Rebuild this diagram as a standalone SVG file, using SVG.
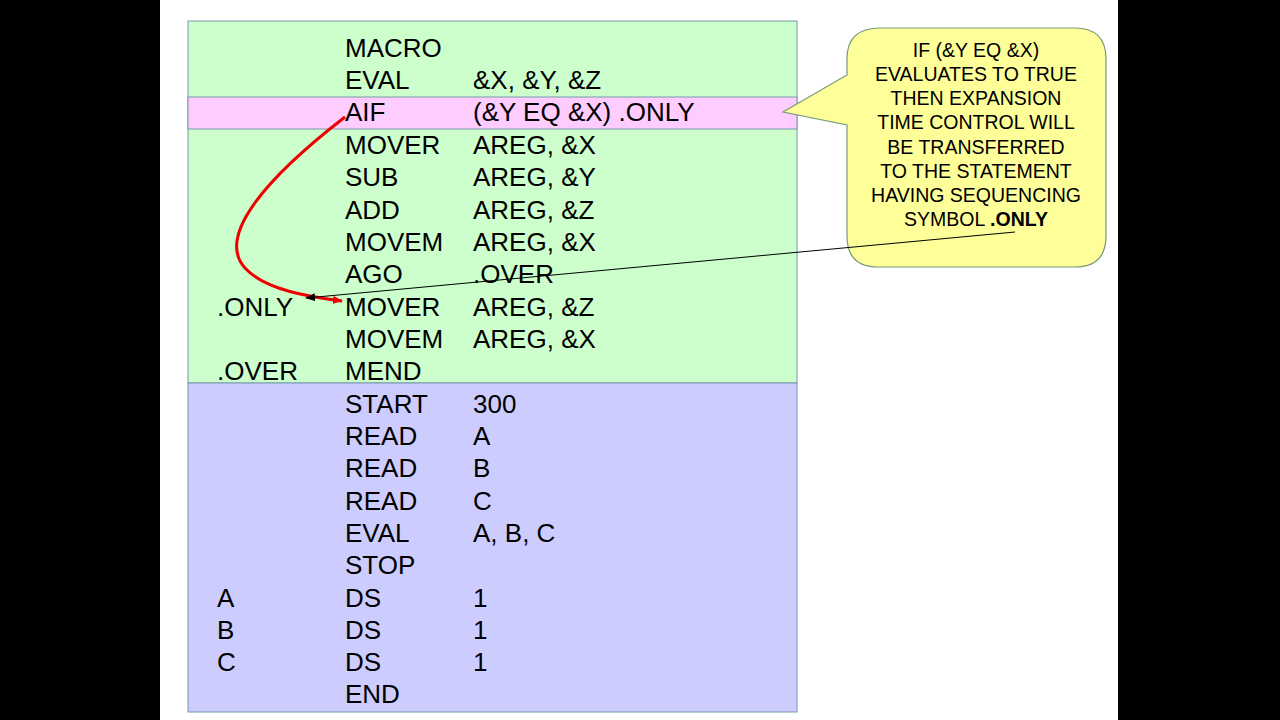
<svg xmlns="http://www.w3.org/2000/svg" width="1280" height="720" viewBox="0 0 1280 720">
<style>
.t{font-family:"Liberation Sans",Arial,sans-serif;font-size:26px;fill:#000}
.c{font-family:"Liberation Sans",Arial,sans-serif;font-size:19.5px;fill:#000;text-anchor:middle}
</style>
<defs>
<marker id="rh" markerWidth="10" markerHeight="8" refX="9" refY="4" orient="auto" markerUnits="userSpaceOnUse"><path d="M0,0L10,4L0,8z" fill="#e00"/></marker>
<marker id="bh" markerWidth="10" markerHeight="8" refX="9" refY="4" orient="auto" markerUnits="userSpaceOnUse"><path d="M0,0L10,4L0,8z" fill="#000"/></marker>
</defs>
<rect width="1280" height="720" fill="#000"/>
<rect x="160" y="0" width="958" height="720" fill="#fff"/>
<g id="macro">
<rect x="188" y="21" width="609" height="362" fill="#ccffcc" stroke="#7799aa"/>
<rect x="188" y="97" width="609" height="32" fill="#ffccff" stroke="#7799aa"/>
</g>
<g id="program">
<rect x="188" y="383" width="609" height="329" fill="#ccccff" stroke="#7799aa"/>
</g>
<g id="code">
<text class="t" x="345" y="57">MACRO</text>
<text class="t" x="345" y="89">EVAL</text><text class="t" x="473" y="89">&amp;X, &amp;Y, &amp;Z</text>
<text class="t" x="345" y="121">AIF</text><text class="t" x="473" y="121">(&amp;Y EQ &amp;X) .ONLY</text>
<text class="t" x="345" y="154">MOVER</text><text class="t" x="473" y="154">AREG, &amp;X</text>
<text class="t" x="345" y="186">SUB</text><text class="t" x="473" y="186">AREG, &amp;Y</text>
<text class="t" x="345" y="219">ADD</text><text class="t" x="473" y="219">AREG, &amp;Z</text>
<text class="t" x="345" y="251">MOVEM</text><text class="t" x="473" y="251">AREG, &amp;X</text>
<text class="t" x="345" y="283">AGO</text><text class="t" x="473" y="283">.OVER</text>
<text class="t" x="217" y="316">.ONLY</text><text class="t" x="345" y="316">MOVER</text><text class="t" x="473" y="316">AREG, &amp;Z</text>
<text class="t" x="345" y="348">MOVEM</text><text class="t" x="473" y="348">AREG, &amp;X</text>
<text class="t" x="217" y="380">.OVER</text><text class="t" x="345" y="380">MEND</text>
<text class="t" x="345" y="413">START</text><text class="t" x="473" y="413">300</text>
<text class="t" x="345" y="445">READ</text><text class="t" x="473" y="445">A</text>
<text class="t" x="345" y="477">READ</text><text class="t" x="473" y="477">B</text>
<text class="t" x="345" y="510">READ</text><text class="t" x="473" y="510">C</text>
<text class="t" x="345" y="542">EVAL</text><text class="t" x="473" y="542">A, B, C</text>
<text class="t" x="345" y="574">STOP</text>
<text class="t" x="217" y="607">A</text><text class="t" x="345" y="607">DS</text><text class="t" x="473" y="607">1</text>
<text class="t" x="217" y="639">B</text><text class="t" x="345" y="639">DS</text><text class="t" x="473" y="639">1</text>
<text class="t" x="217" y="671">C</text><text class="t" x="345" y="671">DS</text><text class="t" x="473" y="671">1</text>
<text class="t" x="345" y="703">END</text>
</g>
<g id="callout">
<path d="M880,28 H1075 Q1106,28 1106,59 V236 Q1106,267 1075,267 H878 Q847,267 847,236 V125 L783,112 L847,75 V59 Q847,28 880,28 Z" fill="#ffff99" stroke="#779977" stroke-width="1.2"/>
<text class="c" x="976" y="57">IF (&amp;Y EQ &amp;X)</text>
<text class="c" x="976" y="81">EVALUATES TO TRUE</text>
<text class="c" x="976" y="105">THEN EXPANSION</text>
<text class="c" x="976" y="129">TIME CONTROL WILL</text>
<text class="c" x="976" y="154">BE TRANSFERRED</text>
<text class="c" x="976" y="178">TO THE STATEMENT</text>
<text class="c" x="976" y="202">HAVING SEQUENCING</text>
<text class="c" x="976" y="226">SYMBOL <tspan font-weight="bold">.ONLY</tspan></text>
</g>
<g id="connectors">
<path d="M345,117 C270,175 215,235 245,268 C265,290 310,297 342,301" fill="none" stroke="#e00" stroke-width="3" marker-end="url(#rh)"/>
<path d="M1015,232 L306,298" fill="none" stroke="#000" stroke-width="1" marker-end="url(#bh)"/>
</g>
</svg>
